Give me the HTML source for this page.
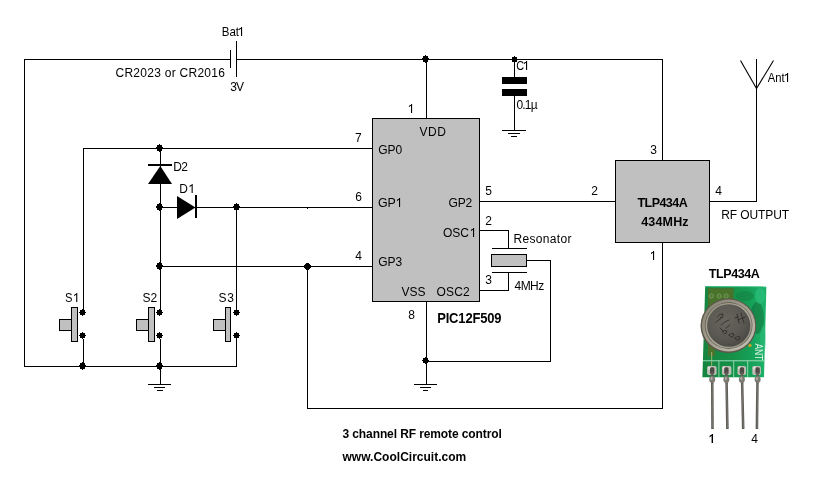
<!DOCTYPE html>
<html><head><meta charset="utf-8"><title>3 channel RF remote control</title>
<style>html,body{margin:0;padding:0;background:#fff;}svg{display:block;}text{font-family:"Liberation Sans",sans-serif;}</style>
</head><body>
<svg width="817" height="487" viewBox="0 0 817 487">
<defs>
<filter id="soft" x="-5%" y="-5%" width="110%" height="110%"><feGaussianBlur stdDeviation="0.45"/></filter>
<radialGradient id="can" cx="0.42" cy="0.38" r="0.7"><stop offset="0" stop-color="#68655e"/><stop offset="0.6" stop-color="#5a5852"/><stop offset="1" stop-color="#484640"/></radialGradient>
<linearGradient id="rim" x1="0.1" y1="0.1" x2="0.9" y2="0.9"><stop offset="0" stop-color="#8a8676"/><stop offset="0.5" stop-color="#a29e90"/><stop offset="1" stop-color="#c2beb2"/></linearGradient>
<linearGradient id="rim2" x1="0.1" y1="0.1" x2="0.9" y2="0.9"><stop offset="0" stop-color="#9a9686"/><stop offset="0.6" stop-color="#b2aea0"/><stop offset="1" stop-color="#8e8a7c"/></linearGradient>
<linearGradient id="pcb" x1="0" y1="0" x2="1" y2="0"><stop offset="0" stop-color="#12843f"/><stop offset="0.45" stop-color="#139047"/><stop offset="0.75" stop-color="#16a058"/><stop offset="1" stop-color="#20b46c"/></linearGradient>
</defs>
<rect width="817" height="487" fill="#fff"/>
<g id="photo" filter="url(#soft)">
<polygon points="705.2,286 766.4,286.5 764,377.2 702.4,377.2" fill="url(#pcb)"/>
<ellipse cx="757" cy="318" rx="7" ry="16" fill="#0d7038" opacity="0.55"/>
<ellipse cx="745" cy="296" rx="9" ry="5" fill="#0f7a3e" opacity="0.45"/>
<ellipse cx="760" cy="296" rx="5" ry="8" fill="#35c98a" opacity="0.45"/>
<ellipse cx="763" cy="340" rx="3" ry="14" fill="#2fc080" opacity="0.4"/>
<rect x="705" y="286" width="61" height="1.2" fill="#5fd3a0" opacity="0.6"/>
<path d="M708 288.2H733.6V301H715V356H708Z" fill="#48722c"/>
<rect x="711" y="352" width="1.2" height="14" fill="#86a860"/>
<circle cx="711.4" cy="296" r="2.1" fill="#4f7a34" stroke="#7f9c62" stroke-width="0.8"/>
<circle cx="719.3" cy="296" r="2.1" fill="#4f7a34" stroke="#7f9c62" stroke-width="0.8"/>
<circle cx="726.2" cy="296" r="2.1" fill="#4f7a34" stroke="#7f9c62" stroke-width="0.8"/>
<rect x="703" y="360.2" width="61.5" height="1.1" fill="#8fd6ae"/>
<rect x="718.4" y="361" width="1" height="16" fill="#8fd6ae"/>
<rect x="733.2" y="361" width="1" height="16" fill="#8fd6ae"/>
<rect x="747.2" y="361" width="1" height="16" fill="#8fd6ae"/>
<rect x="707.1" y="366" width="9.5" height="9" rx="1.8" fill="#bebeb6"/>
<rect x="707.7" y="366.6" width="3" height="3.2" rx="1" fill="#e4e4de" opacity="0.8"/>
<rect x="710.0" y="367.2" width="4.4" height="7" rx="1.5" fill="#4e4a44"/>
<path d="M710.95 372 L711.2 429 L713.8 429 L713.45 372Z" fill="#5f5d57"/>
<path d="M712.0 384 L712.3 428 L713.0 428 L712.7 384Z" fill="#908e86" opacity="0.6"/>
<ellipse cx="712.2" cy="379.5" rx="3.0" ry="3.4" fill="#7c7a72"/>
<ellipse cx="711.6" cy="378.5" rx="1.0" ry="1.6" fill="#b4b2aa"/>
<rect x="721.9" y="366" width="9.5" height="9" rx="1.8" fill="#bebeb6"/>
<rect x="722.5" y="366.6" width="3" height="3.2" rx="1" fill="#e4e4de" opacity="0.8"/>
<rect x="724.1999999999999" y="367.2" width="4.4" height="7" rx="1.5" fill="#4e4a44"/>
<path d="M725.15 372 L726.1 429 L728.6999999999999 429 L727.65 372Z" fill="#5f5d57"/>
<path d="M726.1999999999999 384 L727.1999999999999 428 L727.9 428 L726.9 384Z" fill="#908e86" opacity="0.6"/>
<ellipse cx="726.4" cy="379.5" rx="3.0" ry="3.4" fill="#7c7a72"/>
<ellipse cx="725.8" cy="378.5" rx="1.0" ry="1.6" fill="#b4b2aa"/>
<rect x="737.5" y="366" width="8.6" height="9" rx="1.8" fill="#bebeb6"/>
<rect x="738.1" y="366.6" width="3" height="3.2" rx="1" fill="#e4e4de" opacity="0.8"/>
<rect x="739.6999999999999" y="367.2" width="4.4" height="7" rx="1.5" fill="#4e4a44"/>
<path d="M740.65 372 L741.9000000000001 429 L744.5 429 L743.15 372Z" fill="#5f5d57"/>
<path d="M741.6999999999999 384 L743.0 428 L743.7 428 L742.4 384Z" fill="#908e86" opacity="0.6"/>
<ellipse cx="741.9" cy="379.5" rx="3.0" ry="3.4" fill="#7c7a72"/>
<ellipse cx="741.3" cy="378.5" rx="1.0" ry="1.6" fill="#b4b2aa"/>
<rect x="752.3000000000001" y="366" width="8.6" height="9" rx="1.8" fill="#bebeb6"/>
<rect x="752.9000000000001" y="366.6" width="3" height="3.2" rx="1" fill="#e4e4de" opacity="0.8"/>
<rect x="755.4" y="367.2" width="4.4" height="7" rx="1.5" fill="#4e4a44"/>
<path d="M756.35 372 L755.6 429 L758.1999999999999 429 L758.85 372Z" fill="#5f5d57"/>
<path d="M757.4 384 L756.6999999999999 428 L757.4 428 L758.1 384Z" fill="#908e86" opacity="0.6"/>
<ellipse cx="757.6" cy="379.5" rx="3.0" ry="3.4" fill="#7c7a72"/>
<ellipse cx="757.0" cy="378.5" rx="1.0" ry="1.6" fill="#b4b2aa"/>
<ellipse cx="728.4" cy="325.7" rx="27.9" ry="27.4" fill="#5e584c"/>
<ellipse cx="728.6" cy="325.5" rx="26.6" ry="26.1" fill="url(#rim)"/>
<ellipse cx="728.6" cy="325.5" rx="23.9" ry="23.4" fill="#6a6458"/>
<ellipse cx="728.7" cy="325.5" rx="23.1" ry="22.6" fill="url(#rim2)"/>
<ellipse cx="728.7" cy="325.5" rx="21.6" ry="21.3" fill="url(#can)"/>
<g fill="none" stroke="#2b2822" stroke-width="0.9" stroke-linecap="round" opacity="0.85">
<path d="M717 317 q3 -4 6 -3 q1 2 -3 4 M716 322 l7 -5 M721 325 q4 -4 8 -5 M726 328 l4 -3 M735 318 l3 -1 M737 314 l2 9 M741 313 l3 10 M738 320 l7 -3 M722 332 q3 -3 5 -1 q0 3 -3 3 M729 335 q3 -3 5 -1 q0 3 -3 3 q-2 -1 -2 -2 M735 338 q3 -3 5 -1 q0 3 -3 3 q-2 -1 -2 -2 M720 328 l4 4"/>
</g>
<circle cx="750" cy="345.4" r="1.6" fill="#c9a227"/>
<text transform="translate(755.4 343.4) rotate(90) scale(0.8 1)" font-size="10.5" fill="#e6f5ec" font-family="'Liberation Sans', sans-serif">ANT</text>
</g>
<g id="shapes" shape-rendering="crispEdges">
<rect x="372" y="118" width="108" height="184" fill="#000"/>
<rect x="373" y="119" width="106" height="182" fill="#c0c0c0"/>
<rect x="615" y="160" width="95" height="83" fill="#000"/>
<rect x="616" y="161" width="93" height="81" fill="#c0c0c0"/>
<rect x="491" y="254" width="36" height="13" fill="#000"/>
<rect x="492" y="255" width="34" height="11" fill="#c0c0c0"/>
<rect x="71" y="307" width="7" height="35" fill="#000"/>
<rect x="72" y="308" width="5" height="33" fill="#c0c0c0"/>
<rect x="59" y="319" width="13" height="12" fill="#000"/>
<rect x="60" y="320" width="11" height="10" fill="#c0c0c0"/>
<rect x="148" y="307" width="7" height="35" fill="#000"/>
<rect x="149" y="308" width="5" height="33" fill="#c0c0c0"/>
<rect x="136" y="319" width="13" height="12" fill="#000"/>
<rect x="137" y="320" width="11" height="10" fill="#c0c0c0"/>
<rect x="225" y="307" width="6" height="35" fill="#000"/>
<rect x="226" y="308" width="4" height="33" fill="#c0c0c0"/>
<rect x="213" y="319" width="13" height="12" fill="#000"/>
<rect x="214" y="320" width="11" height="10" fill="#c0c0c0"/>
<rect x="24" y="59" width="207" height="1" fill="#000"/>
<rect x="236" y="59" width="427" height="1" fill="#000"/>
<rect x="24" y="59" width="1" height="308" fill="#000"/>
<rect x="24" y="366" width="213" height="1" fill="#000"/>
<rect x="662" y="59" width="1" height="102" fill="#000"/>
<rect x="662" y="242" width="1" height="167" fill="#000"/>
<rect x="307" y="408" width="356" height="1" fill="#000"/>
<rect x="307" y="266" width="1" height="143" fill="#000"/>
<rect x="230" y="50" width="1" height="18" fill="#000"/>
<rect x="236" y="41" width="1" height="36" fill="#000"/>
<rect x="426" y="59" width="1" height="60" fill="#000"/>
<rect x="514" y="59" width="1" height="19" fill="#000"/>
<rect x="502" y="77" width="25" height="7" fill="#000"/>
<rect x="502" y="89" width="25" height="7" fill="#000"/>
<rect x="514" y="96" width="1" height="35" fill="#000"/>
<rect x="502" y="130" width="24" height="1" fill="#000"/>
<rect x="508" y="133" width="12" height="1" fill="#000"/>
<rect x="511" y="136" width="6" height="1" fill="#000"/>
<rect x="83" y="148" width="290" height="1" fill="#000"/>
<rect x="83" y="148" width="1" height="162" fill="#000"/>
<rect x="83" y="339" width="1" height="28" fill="#000"/>
<rect x="160" y="148" width="1" height="162" fill="#000"/>
<rect x="160" y="339" width="1" height="46" fill="#000"/>
<rect x="160" y="207" width="213" height="1" fill="#000"/>
<rect x="236" y="207" width="1" height="103" fill="#000"/>
<rect x="236" y="339" width="1" height="28" fill="#000"/>
<rect x="307" y="208" width="1" height="1" fill="#000"/>
<rect x="160" y="266" width="213" height="1" fill="#000"/>
<rect x="148" y="384" width="23" height="1" fill="#000"/>
<rect x="154" y="387" width="11" height="1" fill="#000"/>
<rect x="157" y="390" width="6" height="1" fill="#000"/>
<rect x="426" y="301" width="1" height="84" fill="#000"/>
<rect x="414" y="384" width="23" height="1" fill="#000"/>
<rect x="420" y="387" width="11" height="1" fill="#000"/>
<rect x="423" y="390" width="5" height="1" fill="#000"/>
<rect x="426" y="361" width="125" height="1" fill="#000"/>
<rect x="550" y="260" width="1" height="102" fill="#000"/>
<rect x="527" y="260" width="24" height="1" fill="#000"/>
<rect x="480" y="201" width="136" height="1" fill="#000"/>
<rect x="480" y="230" width="29" height="1" fill="#000"/>
<rect x="508" y="230" width="1" height="19" fill="#000"/>
<rect x="492" y="248" width="35" height="1" fill="#000"/>
<rect x="492" y="272" width="35" height="1" fill="#000"/>
<rect x="508" y="272" width="1" height="19" fill="#000"/>
<rect x="480" y="290" width="29" height="1" fill="#000"/>
<rect x="710" y="201" width="47" height="1" fill="#000"/>
<rect x="756" y="59" width="1" height="143" fill="#000"/>
</g>
<g id="smooth">
<rect x="148" y="164" width="24" height="2" fill="#000" shape-rendering="crispEdges"/>
<polygon points="160.3,166 148,184 172,184" fill="#000"/>
<rect x="195" y="195" width="2" height="23" fill="#000" shape-rendering="crispEdges"/>
<polygon points="177,196 177,219 195.5,207.5" fill="#000"/>
<line x1="740.5" y1="60.5" x2="756.5" y2="88.5" stroke="#000" stroke-width="1.1"/>
<line x1="773.5" y1="60.5" x2="756.5" y2="88.5" stroke="#000" stroke-width="1.1"/>
<g shape-rendering="crispEdges" fill="#000">
<rect x="157" y="145" width="5" height="6"/>
<rect x="159" y="144" width="1" height="1"/>
<rect x="159" y="151" width="1" height="1"/>
<rect x="156" y="147" width="7" height="2"/>
<rect x="157" y="204" width="5" height="6"/>
<rect x="159" y="203" width="1" height="1"/>
<rect x="159" y="210" width="1" height="1"/>
<rect x="156" y="206" width="7" height="2"/>
<rect x="234" y="204" width="5" height="6"/>
<rect x="236" y="203" width="1" height="1"/>
<rect x="236" y="210" width="1" height="1"/>
<rect x="233" y="206" width="7" height="2"/>
<rect x="157" y="263" width="5" height="6"/>
<rect x="159" y="262" width="1" height="1"/>
<rect x="159" y="269" width="1" height="1"/>
<rect x="156" y="265" width="7" height="2"/>
<rect x="80" y="363" width="5" height="6"/>
<rect x="82" y="362" width="1" height="1"/>
<rect x="82" y="369" width="1" height="1"/>
<rect x="79" y="365" width="7" height="2"/>
<rect x="157" y="363" width="5" height="6"/>
<rect x="159" y="362" width="1" height="1"/>
<rect x="159" y="369" width="1" height="1"/>
<rect x="156" y="365" width="7" height="2"/>
<rect x="423" y="56" width="5" height="6"/>
<rect x="425" y="55" width="1" height="1"/>
<rect x="425" y="62" width="1" height="1"/>
<rect x="422" y="58" width="7" height="2"/>
<rect x="512" y="57" width="5" height="5"/>
<rect x="514" y="56" width="1" height="1"/>
<rect x="514" y="62" width="1" height="1"/>
<rect x="511" y="59" width="7" height="1"/>
<rect x="423" y="358" width="5" height="5"/>
<rect x="425" y="357" width="1" height="1"/>
<rect x="425" y="363" width="1" height="1"/>
<rect x="422" y="360" width="7" height="1"/>
<rect x="80" y="310" width="5" height="5"/>
<rect x="82" y="309" width="1" height="1"/>
<rect x="82" y="315" width="1" height="1"/>
<rect x="79" y="312" width="7" height="1"/>
<rect x="80" y="333" width="5" height="5"/>
<rect x="82" y="332" width="1" height="1"/>
<rect x="82" y="338" width="1" height="1"/>
<rect x="79" y="335" width="7" height="1"/>
<rect x="157" y="310" width="5" height="5"/>
<rect x="159" y="309" width="1" height="1"/>
<rect x="159" y="315" width="1" height="1"/>
<rect x="156" y="312" width="7" height="1"/>
<rect x="157" y="333" width="5" height="5"/>
<rect x="159" y="332" width="1" height="1"/>
<rect x="159" y="338" width="1" height="1"/>
<rect x="156" y="335" width="7" height="1"/>
<rect x="234" y="310" width="5" height="5"/>
<rect x="236" y="309" width="1" height="1"/>
<rect x="236" y="315" width="1" height="1"/>
<rect x="233" y="312" width="7" height="1"/>
<rect x="234" y="333" width="5" height="5"/>
<rect x="236" y="332" width="1" height="1"/>
<rect x="236" y="338" width="1" height="1"/>
<rect x="233" y="335" width="7" height="1"/>
<rect x="306" y="263" width="3" height="7"/>
<rect x="305" y="264" width="5" height="5"/>
<rect x="304" y="265" width="7" height="3"/>
</g>
</g>
<g id="texts" opacity="0.999" font-family="'Liberation Sans', sans-serif" fill="#000">
<text transform="translate(221.7 36) scale(0.966 1)" font-size="12">Bat</text>
<text x="115.5" y="77" font-size="12" letter-spacing="0.267">CR2023 or CR2016</text>
<text x="230.25" y="91" font-size="12" letter-spacing="-0.9">3V</text>
<text transform="translate(516.2 70) scale(0.914 1)" font-size="12">C</text>
<text x="516.5" y="109" font-size="12" letter-spacing="-0.833">0.1µ</text>
<text transform="translate(767.7 82) scale(0.936 1)" font-size="12">Ant</text>
<text x="419.5" y="136" font-size="12" letter-spacing="0.5">VDD</text>
<text x="355.0" y="142" font-size="12">7</text>
<text x="378.25" y="154" font-size="12">GP0</text>
<text x="173.25" y="171" font-size="12" letter-spacing="-0.75">D2</text>
<text transform="translate(179.2 193) scale(0.994 1)" font-size="12">D</text>
<text x="355.25" y="201" font-size="12">6</text>
<text transform="translate(377.95 207) scale(1.034 1)" font-size="12">GP</text>
<text x="448.5" y="207" font-size="12" letter-spacing="-0.2">GP2</text>
<text x="485.25" y="195" font-size="12">5</text>
<text x="485.25" y="225" font-size="12">2</text>
<text transform="translate(442.95 237) scale(1.005 1)" font-size="12">OSC</text>
<text x="355.25" y="260" font-size="12">4</text>
<text x="378.25" y="266" font-size="12">GP3</text>
<text x="401.5" y="296" font-size="12">VSS</text>
<text x="436.5" y="296" font-size="12" letter-spacing="0.2">OSC2</text>
<text x="485.25" y="284" font-size="12">3</text>
<text x="408.25" y="319" font-size="12">8</text>
<text transform="translate(437.2 323) scale(1 1.075)" font-size="13" font-weight="bold" letter-spacing="-0.175">PIC12F509</text>
<text x="513.5" y="243" font-size="12" letter-spacing="0.326">Resonator</text>
<text x="514.5" y="290" font-size="12" letter-spacing="-0.533">4MHz</text>
<text x="650.25" y="154" font-size="12">3</text>
<text x="591.25" y="195" font-size="12">2</text>
<text x="715.25" y="195" font-size="12">4</text>
<text x="637.5" y="207" font-size="12.5" font-weight="bold" letter-spacing="-0.55">TLP434A</text>
<text x="641.15" y="226" font-size="12.5" font-weight="bold" letter-spacing="0.18">434MHz</text>
<text x="721.25" y="219" font-size="12" letter-spacing="-0.094">RF OUTPUT</text>
<text transform="translate(64.95 302) scale(0.933 1)" font-size="12">S</text>
<text x="142.5" y="302" font-size="12">S2</text>
<text x="218.5" y="302" font-size="12" letter-spacing="0.75">S3</text>
<text x="342.5" y="438" font-size="12" font-weight="bold" letter-spacing="-0.106">3 channel RF remote control</text>
<text x="342.5" y="461" font-size="12" font-weight="bold" letter-spacing="0.011">www.CoolCircuit.com</text>
<text x="708.7" y="278" font-size="12.5" font-weight="bold" letter-spacing="-0.383">TLP434A</text>
<text x="751.2" y="443" font-size="12">4</text>
</g>
<g id="ones">
<path d="M241 27h1.1v9h-1.1z M241.1 27 L241.1 28.5 L238.95 30.3 L238.95 28.9z" fill="#000"/>
<path d="M526 61h1.1v9h-1.1z M526.1 61 L526.1 62.5 L523.95 64.3 L523.95 62.9z" fill="#000"/>
<path d="M787 73h1.1v9h-1.1z M787.1 73 L787.1 74.5 L784.95 76.3 L784.95 74.9z" fill="#000"/>
<path d="M411 104h1.1v9h-1.1z M411.1 104 L411.1 105.5 L408.95 107.3 L408.95 105.9z" fill="#000"/>
<path d="M191.6 184h1.1v9h-1.1z M191.7 184 L191.7 185.5 L189.54999999999998 187.3 L189.54999999999998 185.9z" fill="#000"/>
<path d="M399 198h1.1v9h-1.1z M399.1 198 L399.1 199.5 L396.95 201.3 L396.95 199.9z" fill="#000"/>
<path d="M473 228h1.1v9h-1.1z M473.1 228 L473.1 229.5 L470.95 231.3 L470.95 229.9z" fill="#000"/>
<path d="M653 251h1.1v9h-1.1z M653.1 251 L653.1 252.5 L650.95 254.3 L650.95 252.9z" fill="#000"/>
<path d="M76.2 293h1.1v9h-1.1z M76.3 293 L76.3 294.5 L74.15 296.3 L74.15 294.9z" fill="#000"/>
<path d="M711.6 434h1.4v9h-1.4z M711.7 434 L711.7 435.68 L709.5500000000001 437.48 L709.5500000000001 435.9z" fill="#000"/>
</g>
</svg>
</body></html>
